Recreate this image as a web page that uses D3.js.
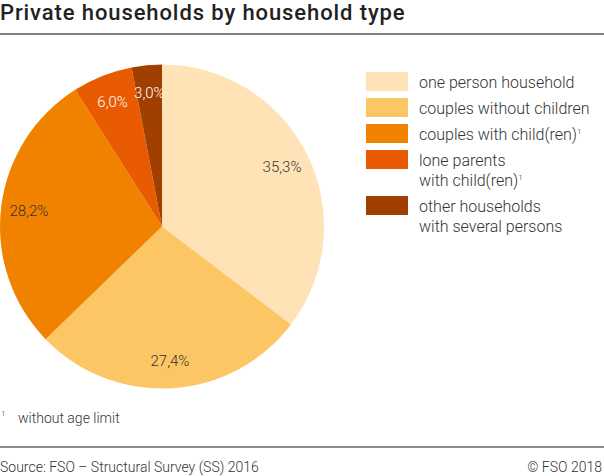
<!DOCTYPE html>
<html>
<head>
<meta charset="utf-8">
<script src="https://cdn.jsdelivr.net/npm/d3@7"></script>
<style>
  body { margin: 0; background: #fff; }
  svg { font-family: Roboto, "Noto Sans", sans-serif; }
  .light { font-weight: 300; fill: #333; }
</style>
</head>
<body>
<svg id="chart" width="604" height="476"></svg>
<script>
const categories = ["one person household", "couples without children", "couples with child(ren)", "lone parents\nwith child(ren)", "other households\nwith several persons"];
const values = [35.3, 27.4, 28.2, 6.0, 3.0];
const footnoted = [false, false, true, true, false];
const colors = ["#ffe3b7", "#fdc665", "#f08200", "#e85b00", "#a13f00"];
const labelColors = ["#333", "#333", "#333", "#fff", "#fff"];

const width = 604;
const height = 476;
const cx = 162, cy = 226.5, radius = 162;

const svg = d3.select("#chart");

// title
svg.append("text")
    .attr("x", 0).attr("y", 20)
    .style("font-size", "22px").style("font-weight", 500).style("fill", "#222")
    .style("letter-spacing", "0.9px")
    .text("Private households by household type");

svg.append("line")
    .attr("x1", 0).attr("x2", width).attr("y1", 34).attr("y2", 34)
    .style("stroke", "#555").style("stroke-width", 1.5);

// pie
const data = values.map((v, i) => ({ name: categories[i], value: v, i: i }));
const pie = d3.pie().sort(null).value(d => d.value);
const arc = d3.arc().innerRadius(0).outerRadius(radius);
const labelArc = d3.arc().innerRadius(134).outerRadius(134);

const g = svg.append("g").attr("transform", "translate(" + cx + "," + cy + ")");
const arcs = pie(data);

g.selectAll("path")
    .data(arcs)
    .enter().append("path")
    .attr("d", arc)
    .style("fill", d => colors[d.data.i]);

g.selectAll(".lbl")
    .data(arcs)
    .enter().append("text")
    .attr("class", "lbl")
    .attr("transform", d => "translate(" + labelArc.centroid(d) + ")")
    .attr("dy", "0.35em")
    .style("text-anchor", "middle")
    .style("font-size", "15px").style("font-weight", 300)
    .style("fill", d => labelColors[d.data.i])
    .text(d => d3.format(".1f")(d.data.value).replace(".", ",") + "%");

// legend
const legend = svg.append("g").attr("transform", "translate(366,72)");
let yy = 0;
data.forEach(function(d) {
    const lines = d.name.split("\n");
    const item = legend.append("g").attr("transform", "translate(0," + yy + ")");
    item.append("rect")
        .attr("width", 42).attr("height", 19)
        .style("fill", colors[d.i]);
    lines.forEach(function(l, k) {
        const t = item.append("text")
            .attr("class", "light")
            .attr("x", 53).attr("y", 16 + k * 20)
            .style("font-size", "16px")
            .text(l);
        if (footnoted[d.i] && k === lines.length - 1) {
            t.append("tspan").attr("dy", -6).style("font-size", "8px").text("1");
        }
    });
    yy += 26 + (lines.length - 1) * 20;
});

// footnote
svg.append("text").attr("class", "light")
    .attr("x", 1).attr("y", 416).style("font-size", "8px").text("1");
svg.append("text").attr("class", "light")
    .attr("x", 18).attr("y", 423).style("font-size", "14px").text("without age limit");

svg.append("line")
    .attr("x1", 0).attr("x2", width).attr("y1", 447).attr("y2", 447)
    .style("stroke", "#666").style("stroke-width", 1.5);

svg.append("text").attr("class", "light")
    .attr("x", 0).attr("y", 472).style("font-size", "14px")
    .text("Source: FSO \u2013 Structural Survey (SS) 2016");
svg.append("text").attr("class", "light")
    .attr("x", 602).attr("y", 472).style("font-size", "14px").style("text-anchor", "end")
    .text("\u00a9 FSO 2018");
</script>
</body>
</html>
